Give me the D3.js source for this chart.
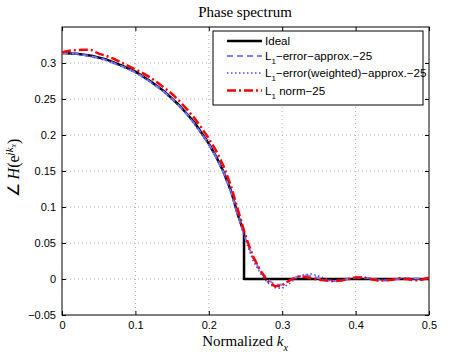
<!DOCTYPE html>
<html><head><meta charset="utf-8">
<script src="https://cdn.jsdelivr.net/npm/d3@7"></script>
<style>body{margin:0;background:#fff}svg{display:block}</style>
</head><body>
<svg id="c" width="474" height="356"></svg>
<script>
const title = "Phase spectrum";
const xTicks = [0, 0.1, 0.2, 0.3, 0.4, 0.5];
const yTicks = [-0.05, 0, 0.05, 0.1, 0.15, 0.2, 0.25, 0.3];
const seriesNames = ["Ideal", "L1-error-approx.-25", "L1-error(weighted)-approx.-25", "L1 norm-25"];

const kIdeal = [0, 0.02, 0.04, 0.06, 0.08, 0.10, 0.12, 0.14, 0.16, 0.18, 0.20, 0.21, 0.22, 0.23, 0.24, 0.248, 0.248, 0.30, 0.40, 0.50];
const idealPhase = [0.314, 0.313, 0.310, 0.305, 0.297, 0.288, 0.275, 0.260, 0.241, 0.218, 0.188, 0.170, 0.149, 0.123, 0.088, 0.064, 0, 0, 0, 0];

const kGrid = [0,0.01,0.02,0.03,0.04,0.05,0.06,0.07,0.08,0.09,0.10,0.11,0.12,0.13,0.14,0.15,0.16,0.17,0.18,0.19,0.20,0.21,0.22,0.23,0.24,0.25,0.26,0.27,0.28,0.29,0.30,0.31,0.32,0.33,0.34,0.35,0.36,0.37,0.38,0.39,0.40,0.41,0.42,0.43,0.44,0.45,0.46,0.47,0.48,0.49,0.50];
const approxPhase = [0.314,0.3138,0.313,0.311,0.309,0.307,0.304,0.300,0.296,0.292,0.287,0.281,0.274,0.267,0.259,0.250,0.240,0.229,0.216,0.202,0.187,0.169,0.148,0.121,0.088,0.056,0.030,0.012,0.000,-0.008,-0.008,-0.002,0.003,0.005,0.004,0.001,-0.002,-0.003,-0.002,0.000,0.002,0.002,0.001,-0.001,-0.002,-0.001,0.000,0.001,0.001,0.000,0.001];
const weightedPhase = [0.314,0.3137,0.3128,0.311,0.3088,0.306,0.3035,0.2998,0.2955,0.2913,0.2865,0.2805,0.2735,0.2665,0.2585,0.2495,0.2395,0.2285,0.2155,0.2015,0.1865,0.1685,0.1475,0.1205,0.0875,0.054,0.026,0.008,-0.005,-0.012,-0.013,-0.006,0.002,0.006,0.007,0.004,0.000,-0.003,-0.003,-0.001,0.002,0.003,0.001,-0.001,-0.002,-0.001,0.001,0.001,0.000,-0.001,0.001];
const normPhase = [0.315,0.317,0.318,0.3185,0.318,0.313,0.310,0.306,0.301,0.296,0.291,0.286,0.280,0.273,0.265,0.257,0.247,0.236,0.224,0.210,0.195,0.178,0.157,0.130,0.095,0.060,0.032,0.012,-0.003,-0.010,-0.009,-0.002,0.003,0.003,0.001,-0.001,-0.002,-0.003,-0.002,0.000,0.002,0.002,0.000,-0.002,-0.002,-0.001,0.001,0.000,-0.002,-0.001,0.002];

const svg = d3.select("#c");
const L = 62, R = 429, T = 27, B = 315;
const x = d3.scaleLinear().domain([0, 0.5]).range([L, R]);
const y = d3.scaleLinear().domain([-0.05, 0.35]).range([B, T]);

// grid
const g = svg.append("g");
g.selectAll(".gx").data(xTicks.slice(1, -1)).enter().append("line")
  .attr("x1", d => x(d)).attr("x2", d => x(d)).attr("y1", T).attr("y2", B)
  .attr("stroke", "#b0b0b0").attr("stroke-width", 1).attr("stroke-dasharray", "1,3");
g.selectAll(".gy").data(yTicks.slice(1)).enter().append("line")
  .attr("x1", L).attr("x2", R).attr("y1", d => y(d)).attr("y2", d => y(d))
  .attr("stroke", "#b0b0b0").attr("stroke-width", 1).attr("stroke-dasharray", "1,3");

// axes
const fontTick = "'Liberation Sans', Arial, sans-serif";
const xAxis = d3.axisBottom(x).tickValues(xTicks).tickSize(-4).tickPadding(6).tickFormat(d3.format("~g"));
const yAxis = d3.axisLeft(y).tickValues(yTicks).tickSize(-4).tickPadding(6).tickFormat(d => d < 0 ? "\u2212" + d3.format("~g")(-d) : d3.format("~g")(d));
const ax = svg.append("g").attr("transform", `translate(0,${B})`).call(xAxis);
const ay = svg.append("g").attr("transform", `translate(${L},0)`).call(yAxis);
svg.append("g").attr("transform", `translate(0,${T})`).call(d3.axisTop(x).tickValues(xTicks).tickSize(-4).tickFormat(""));
svg.append("g").attr("transform", `translate(${R},0)`).call(d3.axisRight(y).tickValues(yTicks).tickSize(-4).tickFormat(""));
svg.selectAll(".domain").remove();
svg.selectAll(".tick line").attr("stroke", "#000");
svg.selectAll(".tick text").attr("font-family", fontTick).attr("font-size", 11).attr("fill", "#000");
svg.append("rect").attr("x", L).attr("y", T).attr("width", R - L).attr("height", B - T)
  .attr("fill", "none").attr("stroke", "#000").attr("stroke-width", 1);

// lines
svg.append("clipPath").attr("id", "cl").append("rect").attr("x", L).attr("y", T).attr("width", R - L).attr("height", B - T);
const line = d3.line().x(d => x(d[0])).y(d => y(d[1]));
const plot = svg.append("g").attr("clip-path", "url(#cl)");
const styles = [
  {color: "#000", width: 2.5, dash: null},
  {color: "#8080ff", width: 2, dash: "6,4"},
  {color: "#4a4aff", width: 1.6, dash: "1.5,2.5"},
  {color: "#ff0000", width: 2.5, dash: "9,3,2,3"}
];
const data = [
  kIdeal.map((k, i) => [k, idealPhase[i]]),
  kGrid.map((k, i) => [k, approxPhase[i]]),
  kGrid.map((k, i) => [k, weightedPhase[i]]),
  kGrid.map((k, i) => [k, normPhase[i]])
];
data.forEach((d, i) => {
  plot.append("path").datum(d).attr("d", line).attr("fill", "none")
    .attr("stroke", styles[i].color).attr("stroke-width", styles[i].width)
    .attr("stroke-dasharray", styles[i].dash).attr("stroke-linejoin", "round");
});

// legend
const lg = svg.append("g");
lg.append("rect").attr("x", 213).attr("y", 31).attr("width", 210).attr("height", 74)
  .attr("fill", "#fff").attr("stroke", "#000").attr("stroke-width", 1);
const rowsY = [41, 56, 73, 90.5];
const labelParts = [
  [["Ideal", null]],
  [["L", null], ["1", "sub"], ["\u2212error\u2212approx.\u221225", null]],
  [["L", null], ["1", "sub"], ["\u2212error(weighted)\u2212approx.\u221225", null]],
  [["L", null], ["1", "sub"], [" norm\u221225", null]]
];
rowsY.forEach((yy, i) => {
  lg.append("line").attr("x1", 227).attr("x2", 262).attr("y1", yy).attr("y2", yy)
    .attr("stroke", styles[i].color).attr("stroke-width", styles[i].width).attr("stroke-dasharray", styles[i].dash);
  const t = lg.append("text").attr("x", 265).attr("y", yy + 4).attr("font-family", fontTick).attr("font-size", 11.6).attr("fill", "#000");
  labelParts[i].forEach(p => {
    const ts = t.append("tspan").text(p[0]);
    if (p[1] === "sub") ts.attr("dy", 4).attr("font-size", 8);
    else if (i > 0 && p !== labelParts[i][0]) ts.attr("dy", -4);
  });
});

// title
const serif = "'Liberation Serif', 'Times New Roman', serif";
svg.append("text").attr("x", 245).attr("y", 17).attr("text-anchor", "middle")
  .attr("font-family", serif).attr("font-size", 15).text(title);

// x label
const xl = svg.append("text").attr("x", 245).attr("y", 346).attr("text-anchor", "middle")
  .attr("font-family", serif).attr("font-size", 15);
xl.append("tspan").text("Normalized ");
xl.append("tspan").attr("font-style", "italic").text("k");
xl.append("tspan").attr("font-style", "italic").attr("font-size", 10).attr("dy", 5).text("x");

// y label
const yl = svg.append("text").attr("transform", "translate(19,168) rotate(-90)").attr("text-anchor", "middle")
  .attr("font-family", serif).attr("font-size", 16);
yl.append("tspan").text("\u2220 ");
yl.append("tspan").attr("font-style", "italic").text("H");
yl.append("tspan").text("(e");
yl.append("tspan").attr("font-style", "italic").attr("font-size", 11).attr("dy", -6).text("jk");
yl.append("tspan").attr("font-style", "italic").attr("font-size", 8).attr("dy", 3).text("x");
yl.append("tspan").attr("dy", 3).text(")");
</script>
</body></html>
